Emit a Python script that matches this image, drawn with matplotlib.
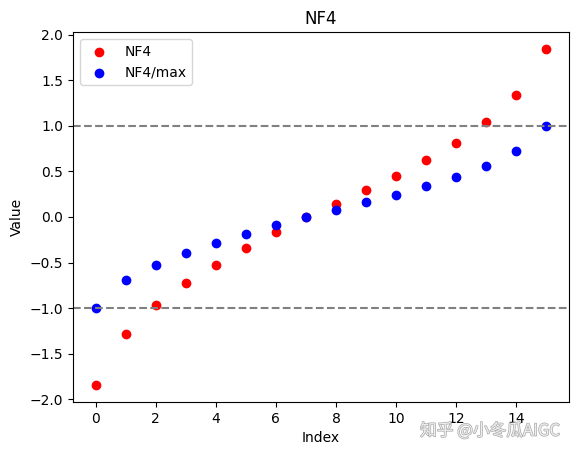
import numpy as np
import matplotlib.pyplot as plt
import matplotlib.patheffects as pe

idx = list(range(16))
nf4 = [-1.848, -1.287, -0.970, -0.730, -0.526, -0.342, -0.168, 0.0,
       0.147, 0.297, 0.455, 0.624, 0.814, 1.040, 1.336, 1.848]
nf4_max = [-1.0, -0.6962, -0.5251, -0.3949, -0.2844, -0.1848, -0.0911, 0.0,
           0.0796, 0.1609, 0.2461, 0.3379, 0.4407, 0.5626, 0.7230, 1.0]

fig = plt.figure(figsize=(5.78, 4.55), dpi=100)
ax = fig.add_axes([73/578, 1-402/455, (569-73)/578, (402-32)/455])

ax.scatter(idx, nf4, color='red', label='NF4')
ax.scatter(idx, nf4_max, color='blue', label='NF4/max')
ax.axhline(1.0, color='gray', linestyle='--')
ax.axhline(-1.0, color='gray', linestyle='--')
ax.set_title('NF4')
ax.set_xlabel('Index')
ax.set_ylabel('Value')
ax.legend(loc='upper left')

fig.text(490/578, 1-431/455, '知乎 @小冬瓜AIGC', ha='center', va='center',
         fontsize=12, color='#eeeeee', family=['Noto Sans CJK SC', 'DejaVu Sans'],
         path_effects=[pe.withStroke(linewidth=1.0, foreground='#aaaaaa')])

fig.savefig('out.png', dpi=100)
